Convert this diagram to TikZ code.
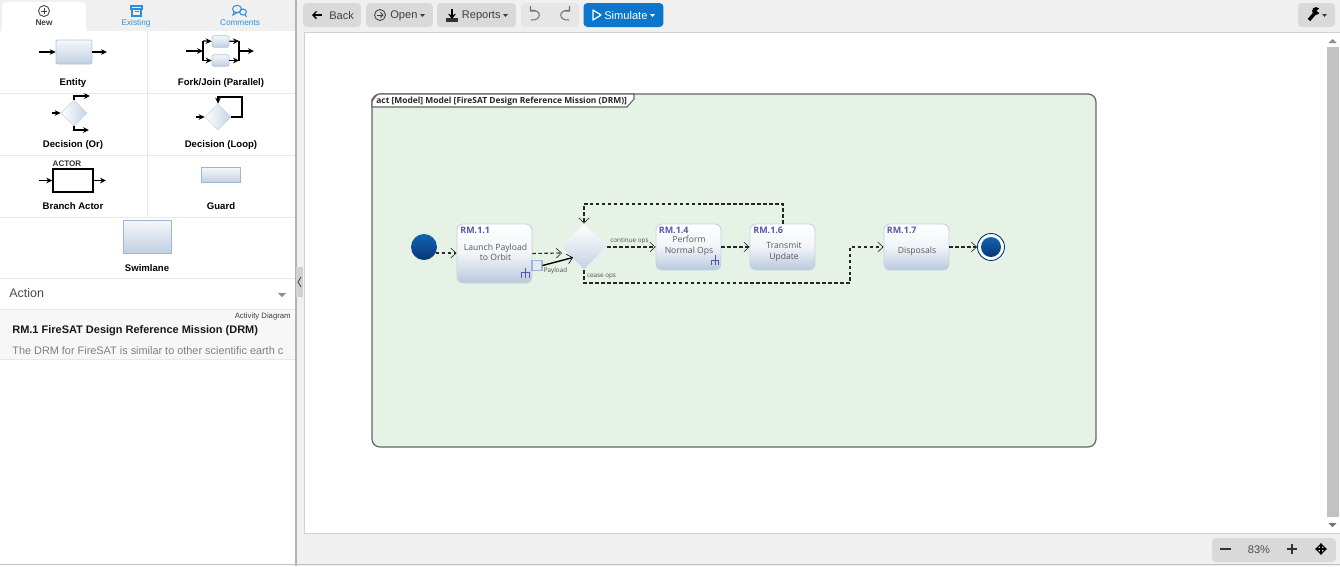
\documentclass[tikz,border=0pt]{standalone}
\usepackage{fontspec}
\usepackage{amsmath}
\usetikzlibrary{shapes.geometric,arrows.meta}
\setmainfont{Liberation Sans}
\newfontfamily\diagfont{Open Sans}
\newcommand{\fs}[1]{\fontsize{#1}{#1}\selectfont}
\definecolor{panelgray}{HTML}{F0F0F0}
\definecolor{linegray}{HTML}{E8E8E8}
\definecolor{btngray}{HTML}{D9D9D9}
\definecolor{btnlight}{HTML}{E6E6E6}
\definecolor{btnblue}{HTML}{0B76CC}
\definecolor{tabblue}{HTML}{2E8FDC}
\definecolor{framegreen}{HTML}{E6F2E6}
\definecolor{boxedge}{HTML}{C2D3E2}
\definecolor{boxlow}{HTML}{B9C8DC}
\definecolor{idblue}{HTML}{5757A5}
\definecolor{iconedge}{HTML}{9DB6D2}
\definecolor{ballhigh}{HTML}{1264B2}
\definecolor{balllow}{HTML}{083577}
\tikzset{
  x=0.02cm,y=-0.02cm,
  btn/.style={draw=none,fill=btngray,rounded corners=0.08cm,inner sep=0,minimum height=0.48cm},
  btntext/.style={inner sep=0,text=black!75,font=\fs{6.3}},
  paltext/.style={inner sep=0,font=\bfseries\fs{5.45}},
  tabtext/.style={inner sep=0,text=tabblue,font=\fs{4.7}},
  palbox/.style={draw=iconedge!80,rounded corners=0.04cm,inner sep=0,top color=white!90!iconedge,bottom color=iconedge!65},
  paldia/.style={diamond,aspect=1,inner sep=0,minimum width=0.52cm,minimum height=0.52cm,draw=iconedge!50,left color=white,right color=iconedge!60},
  palwire/.style={line width=0.7pt,-{Stealth[length=3.4pt,width=3.2pt]}},
  actbox/.style={draw=boxedge,line width=0.5pt,rounded corners=0.12cm,inner sep=0,top color=white,bottom color=boxlow,middle color=white!80!boxlow},
  acttext/.style={inner sep=0,align=center,text=black!65,font=\diagfont\fs{4.9}},
  actid/.style={inner sep=0,anchor=north west,text=idblue,font=\diagfont\bfseries\fs{5.1}},
  flow/.style={line width=0.65pt,dash pattern=on 2pt off 1.4pt,draw=black!85,-{Straight Barb[length=3pt,width=5.5pt,line width=0.35pt]}},
  guardtext/.style={inner sep=0,text=black!70,font=\diagfont\fs{3.6}},
  icon/.style={line width=0.5pt,draw=black!75},
}
\begin{document}
\begin{tikzpicture}
\useasboundingbox (0,0) rectangle (1340,566);
\fill[panelgray] (0,0) rectangle (1340,566);

% left panel
\fill[white] (0,31) rectangle (295,566);
\fill[white,rounded corners=0.06cm] (2,2) rectangle (86,40);
\fill[white] (2,31) rectangle (86,40);
\foreach \y in {93,155,217,278} {
\draw[linegray,line width=0.5pt] (0,\y) -- (295,\y);
}
\draw[linegray,line width=0.5pt] (147,31) -- (147,217);
\fill[black!30] (295,0) rectangle (297,566);
\fill[black!18] (296,267) rectangle (303,297);
\draw[black!70,line width=0.5pt] (301,277) -- (298,282) -- (301,287);

% tabs
\node[inner sep=0,font=\bfseries\fs{4.7},text=black!75] (tabnew) at (44,23) {New};
\node[tabtext] (tabexisting) at (136,23) {Existing};
\node[tabtext] (tabcomments) at (240,23) {Comments};
\draw[icon] (44,11) circle (5.5);
\draw[icon] (41,11) -- (47,11) (44,8) -- (44,14);
\draw[tabblue,line width=0.6pt] (131,6) rectangle (142,9) (132,9) -- (132,16) -- (141,16) -- (141,9) (134.5,11.5) -- (138.5,11.5);
\draw[tabblue,line width=0.6pt] (237,9) ellipse (4.5 and 3.7) (234,12) -- (233,15) -- (237,13);
\draw[tabblue,line width=0.6pt] (243,12) ellipse (3.5 and 3) (245,15) -- (246.5,16.5);

% palette
\node[palbox,minimum width=0.72cm,minimum height=0.48cm] (entity) at (74,52) {};
\coordinate (entityin) at (39,52);
\coordinate (entityout) at (107,52);
\draw[palwire] (entityin) -- (entity);
\draw[palwire] (entity) -- (entityout);
\node[paltext] (entitytext) at (73,83) {Entity};

\node[palbox,minimum width=0.34cm,minimum height=0.23cm] (forka) at (220.5,41.5) {};
\node[palbox,minimum width=0.34cm,minimum height=0.23cm] (forkb) at (220.5,60.5) {};
\coordinate (forkin) at (186,51);
\coordinate (forkout) at (254,51);
\coordinate (forkl) at (203,51);
\coordinate (forkr) at (239,51);
\draw[line width=1.3pt] (203,41) -- (203,61) (239,41) -- (239,61);
\draw[palwire] (forkin) -- (forkl);
\draw[palwire] (forkr) -- (forkout);
\draw[palwire] (203,41) -- (forka);
\draw[palwire] (203,60.5) -- (forkb);
\draw[palwire] (forka) -- (239,41);
\draw[palwire] (forkb) -- (239,60.5);
\node[paltext] (forktext) at (221,83) {Fork/Join (Parallel)};

\node[paldia] (orgate) at (74,113) {};
\coordinate (orin) at (52,113);
\coordinate (orup) at (90,96);
\coordinate (ordown) at (89,130);
\draw[palwire] (orin) -- (orgate);
\draw[palwire] (orgate.north) |- (orup);
\draw[palwire] (orgate.south) |- (ordown);
\node[paltext] (ortext) at (73,145) {Decision (Or)};

\node[paldia] (loopgate) at (218,117) {};
\coordinate (loopin) at (196,117);
\coordinate (loopcorner) at (242,97);
\draw[palwire] (loopin) -- (loopgate);
\draw[palwire] (loopgate.east) -| (loopcorner) -| (loopgate.north);
\node[paltext] (looptext) at (221,145) {Decision (Loop)};

\node[draw=black,line width=0.8pt,inner sep=0,minimum width=0.8cm,minimum height=0.46cm] (actor) at (73,180.5) {};
\node[inner sep=0,font=\bfseries\fs{4.6},text=black!80] (actorname) at (67,163.5) {ACTOR};
\coordinate (actorin) at (39,180.5);
\coordinate (actorout) at (106,180.5);
\draw[palwire] (actorin) -- (actor);
\draw[palwire] (actor) -- (actorout);
\node[paltext] (actortext) at (73,205.8) {Branch Actor};

\node[palbox,draw=iconedge,rounded corners=0,minimum width=0.78cm,minimum height=0.31cm] (guard) at (220.5,175) {};
\node[paltext] (guardlabel) at (221,206.5) {Guard};

\node[palbox,draw=iconedge,rounded corners=0,minimum width=0.96cm,minimum height=0.66cm] (swim) at (147.5,237) {};
\node[paltext] (swimtext) at (147,268) {Swimlane};

% action block
\fill[white!97!black] (0,310) rectangle (295,359);
\draw[linegray,line width=0.5pt] (0,309.5) -- (295,309.5) (0,359.5) -- (295,359.5);
\node[inner sep=0,anchor=west,text=black!70,font=\fs{7.1}] (action) at (9,293) {Action};
\fill[black!45] (278,293) -- (286,293) -- (282,297) -- cycle;
\node[inner sep=0,anchor=east,text=black!75,font=\fs{4.4}] (acttype) at (291,316.5) {Activity Diagram};
\node[inner sep=0,anchor=west,text=black!90,font=\bfseries\fs{6.25}] (acttitle) at (12,331) {RM.1 FireSAT Design Reference Mission (DRM)};
\node[inner sep=0,anchor=west,text=black!50,font=\fs{6.2}] (actdesc) at (12,350.5) {The DRM for FireSAT is similar to other scientific earth c};

% top bar
\node[btn,minimum width=1.16cm] (back) at (332,15) {};
\node[btn,minimum width=1.34cm] (open) at (399.5,15) {};
\node[btn,minimum width=1.58cm] (reports) at (476.5,15) {};
\node[btn,fill=btnlight,minimum width=1.16cm] (undo) at (550,15) {};
\node[btn,fill=btnblue,minimum width=1.60cm] (simulate) at (623.5,15) {};
\node[btn,minimum width=0.74cm] (tools) at (1316.5,15) {};
\node[btntext,anchor=west] at (329,15.8) {Back};
\node[btntext,anchor=west] at (390,15.8) {Open};
\node[btntext,anchor=west] at (461.5,15.8) {Reports};
\node[btntext,anchor=west,text=white] at (604,15.8) {Simulate};
\draw[line width=0.8pt,-{Straight Barb[length=2pt,width=4pt]}] (322,15) -- (312,15);
\draw[icon] (380,15) circle (5.5);
\draw[icon,-{Straight Barb[length=1.4pt,width=3pt]}] (376.5,15) -- (383.5,15);
\fill[black!80] (446,18) rectangle (458,22);
\draw[line width=0.8pt,-{Stealth[length=3pt,width=4.5pt]}] (452,9) -- (452,19);
\foreach \x in {420,503,1322} {
\fill[black!75] (\x,14) -- (\x+5,14) -- (\x+2.5,17) -- cycle;
}
\fill[white] (650,14) -- (655,14) -- (652.5,17) -- cycle;
\draw[black!55,line width=0.6pt] (531,20) .. controls (542,21) and (542,9) .. (531,10.5) (530.5,6) -- (530.5,11) -- (535.5,11);
\draw[black!55,line width=0.6pt] (569,20) .. controls (558,21) and (558,9) .. (569,10.5) (569.5,6) -- (569.5,11) -- (564.5,11);
\draw[white,line width=0.7pt,line join=round] (593,10) -- (593,20) -- (601,15) -- cycle;
\draw[black,line width=1.9pt] (1309,20) -- (1315,13);
\fill[black] (1316,11) circle (3.9);
\fill[btngray] (1320.5,7.5) -- (1316.5,11) -- (1320.5,13.5) -- cycle;

% canvas
\fill[white] (304,32) rectangle (1325,533);
\draw[black!18,line width=0.4pt] (304,32) rectangle (1340,533);
\fill[white] (1325,32.5) rectangle (1340,533);
\fill[black!24] (1327,47) rectangle (1339,517);
\fill[black!45] (1328.5,43) -- (1332.5,39) -- (1336.5,43) -- cycle;
\fill[black!55] (1328.5,523) -- (1336.5,523) -- (1332.5,527) -- cycle;
\draw[black!25,line width=0.5pt] (0,564.5) -- (1340,564.5);

% bottom bar
\node[btn,minimum width=2.48cm] (zoombar) at (1274,550) {};
\node[inner sep=0,text=black!70,font=\fs{6.3}] (zoomtext) at (1259,550) {83\%};
\draw[black!80,line width=0.6pt] (1220,549) -- (1231,549) (1287,549) -- (1297,549) (1292,544) -- (1292,554);
\draw[black,line width=0.8pt,{Stealth[length=2.4pt,width=4pt]}-{Stealth[length=2.4pt,width=4pt]}] (1315,549) -- (1327,549);
\draw[black,line width=0.8pt,{Stealth[length=2.4pt,width=4pt]}-{Stealth[length=2.4pt,width=4pt]}] (1321,543) -- (1321,555);

% frame
\draw[black!60,fill=framegreen,line width=0.7pt,rounded corners=0.16cm] (372,94) rectangle (1096,447);
\draw[black!60,fill=white,line width=0.6pt] (372,107) -- (372,100) to[out=-90,in=180] (379,94) -- (634,94) -- (634,99) -- (627,107) -- cycle;
\node[inner sep=0,anchor=west,font=\diagfont\bfseries\fs{4.8},text=black!85] (frametitle) at (376,101.5) {act [Model] Model [FireSAT Design Reference Mission (DRM)]};

% activity
\node[circle,inner sep=0,minimum size=0.52cm,top color=ballhigh,bottom color=balllow,draw=none] (start) at (424,247) {};
\node[actbox,minimum width=1.5cm,minimum height=1.18cm] (rmone) at (494.5,253.5) {};
\node[actid] at (460,226.5) {RM.1.1};
\node[acttext] (rmonetext) at (495.5,252.5) {Launch Payload\\[0.2em]to Orbit};
\draw[idblue,line width=0.4pt] (521,278) -- (521,272) (525,278) -- (525,268) (529,278) -- (529,272) (521,272) -- (529,272);
\node[draw=iconedge,fill=white!70!iconedge,line width=0.6pt,inner sep=0,minimum size=0.2cm] (pin) at (537,265.5) {};
\node[guardtext] at (555.5,270.5) {Payload};

\node[diamond,aspect=1,inner sep=0,minimum width=0.92cm,minimum height=0.92cm,top color=white,bottom color=boxlow!85,draw=white!80!boxlow,line width=0.3pt] (gate) at (584,247) {};
\coordinate (gatein) at (562,253);
\coordinate (gatepin) at (573,257.5);
\draw[flow] (start.-27) -- (rmone.west|-start.-27);
\draw[flow] (rmone.east) -- (gatein);
\draw[line width=0.8pt,-{Straight Barb[length=3pt,width=5.5pt,line width=0.35pt]}] (pin.east) -- (gatepin);

\node[actbox,minimum width=1.3cm,minimum height=0.92cm] (rmfour) at (688.5,247) {};
\node[actid] at (658.5,226.5) {RM.1.4};
\node[acttext] (rmfourtext) at (689,246) {Perform\\[0.3em]Normal Ops};
\draw[idblue,line width=0.4pt] (711.5,265) -- (711.5,260) (715,265) -- (715,255) (718.5,265) -- (718.5,260) (711.5,260) -- (718.5,260);

\node[actbox,minimum width=1.3cm,minimum height=0.92cm] (rmsix) at (782.5,247) {};
\node[actid] at (753,226.5) {RM.1.6};
\node[acttext] (rmsixtext) at (784,251.5) {Transmit\\[0.3em]Update};

\node[actbox,minimum width=1.3cm,minimum height=0.92cm] (rmseven) at (916.5,247) {};
\node[actid] at (886.5,226.5) {RM.1.7};
\node[acttext] (rmseventext) at (917,251) {Disposals};

\node[circle,inner sep=0,minimum size=0.54cm,draw=balllow,fill=white,line width=0.5pt] (stop) at (991,247) {};
\node[circle,inner sep=0,minimum size=0.4cm,top color=ballhigh,bottom color=balllow] (stopin) at (991,247) {};

\coordinate (loopa) at (783,204);
\coordinate (loopb) at (584,204);
\coordinate (ceasea) at (584,283);
\coordinate (ceaseb) at (850,283);
\draw[flow] (gate.east) -- (rmfour.west);
\draw[flow] (rmfour.east) -- (rmsix.west);
\draw[flow] (rmsix.north-|loopa) -- (loopa) -- (loopb) -- (gate.north);
\draw[flow] (gate.south) -- (ceasea) -- (ceaseb) |- (rmseven.west);
\draw[flow] (rmseven.east) -- (stop.west);
\node[guardtext] at (629.5,240.5) {continue ops};
\node[guardtext] at (601.5,277) {cease ops};
\end{tikzpicture}
\end{document}
